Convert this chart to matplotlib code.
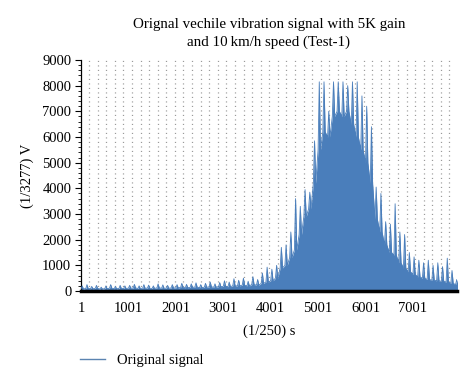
import numpy as np
import matplotlib
matplotlib.use('Agg')
import matplotlib.pyplot as plt

# Envelope of the vibration signal, read every 100 samples (sample = 100*i + 1)
peaks = [200, 250, 180, 220, 150, 200, 250, 180, 220, 200,
         220, 260, 200, 250, 230, 200, 280, 240, 220, 250,
         250, 300, 260, 280, 320, 250, 300, 350, 280, 330,
         400, 350, 480, 420, 500, 380, 560, 450, 700, 930,
         850, 1000, 1700, 1800, 2300, 3600, 3300, 3950, 3850, 5850,
         8150, 8150, 7000, 8150, 8150, 8150, 8000, 8150, 8150, 7600,
         7200, 6400, 4050, 3800, 2700, 2600, 3400, 2300, 2200, 1500,
         1330, 1200, 1100, 1200, 1000, 1100, 950, 1280, 800, 450]
floors = [80, 100, 90, 100, 80, 90, 110, 90, 100, 100,
          110, 120, 100, 110, 110, 100, 120, 110, 110, 120,
          120, 140, 130, 140, 150, 130, 150, 160, 150, 170,
          180, 170, 200, 200, 230, 200, 250, 230, 300, 350,
          400, 500, 900, 1000, 1300, 1600, 2200, 2900, 3200, 4200,
          5500, 6200, 6000, 6800, 7000, 6800, 7000, 6500, 6000, 5500,
          5000, 4200, 2800, 2300, 1800, 1500, 1400, 1100, 900, 750,
          650, 550, 500, 450, 420, 400, 380, 350, 300, 250]

x_ticks = [1, 1001, 2001, 3001, 4001, 5001, 6001, 7001]
y_ticks = [0, 1000, 2000, 3000, 4000, 5000, 6000, 7000, 8000, 9000]

# build the spiky trace: floor -> peak -> floor for each bin
xs, ys = [], []
for i, (p, f) in enumerate(zip(peaks, floors)):
    s = 100 * i + 1
    xs += [s, s + 25, s + 50, s + 75]
    ys += [f, p, f, (f + floors[min(i + 1, len(floors) - 1)]) / 2]
xs = np.array(xs)
ys = np.array(ys)

plt.rcParams['font.family'] = ['Liberation Serif', 'DejaVu Serif']

fig = plt.figure(figsize=(4.74, 3.87), dpi=100)
ax = fig.add_axes([0.171, 0.248, 0.793, 0.597])

# dotted grid
for gx in np.arange(170, 7930, 181):
    ax.axvline(gx, color='#9a9a9a', lw=0.9, ls=(0, (0.9, 2.7)), zorder=0)

blue = '#4a7ebb'
ax.fill_between(xs, 0, ys, color=blue, lw=0, zorder=2)
ax.plot(xs, ys, color=blue, lw=0.6, zorder=3, label='Original signal')

ax.set_xlim(1, 7930)
ax.set_ylim(0, 9000)
ax.set_xticks(x_ticks)
ax.set_xticklabels([str(t) for t in x_ticks])
ax.set_yticks(y_ticks)
ax.set_yticks(np.arange(0, 9001, 200), minor=True)
ax.tick_params(axis='x', length=0, labelsize=10.5, pad=8)
ax.tick_params(axis='y', which='major', length=4, width=0.8, labelsize=10.5, pad=3)
ax.tick_params(axis='y', which='minor', length=2, width=0.6)

for s in ['top', 'right']:
    ax.spines[s].set_visible(False)
ax.spines['left'].set_linewidth(0.9)
ax.spines['bottom'].set_linewidth(2.5)

ax.set_title('Orignal vechile vibration signal with 5K gain\nand 10\u2009km/h speed (Test-1)',
             fontsize=10.8, pad=10, linespacing=1.45)
ax.set_xlabel('(1/250) s', fontsize=10.5, labelpad=7)
ax.set_ylabel('(1/3277) V', fontsize=10.5, labelpad=6)

leg = ax.legend(loc='upper left', bbox_to_anchor=(-0.037, -0.215), frameon=False,
                fontsize=10.5, handlelength=1.7, handletextpad=0.8)
leg.get_lines()[0].set_color('#5b84b1')
leg.get_lines()[0].set_linewidth(1.0)

fig.savefig('out.png', dpi=100)
